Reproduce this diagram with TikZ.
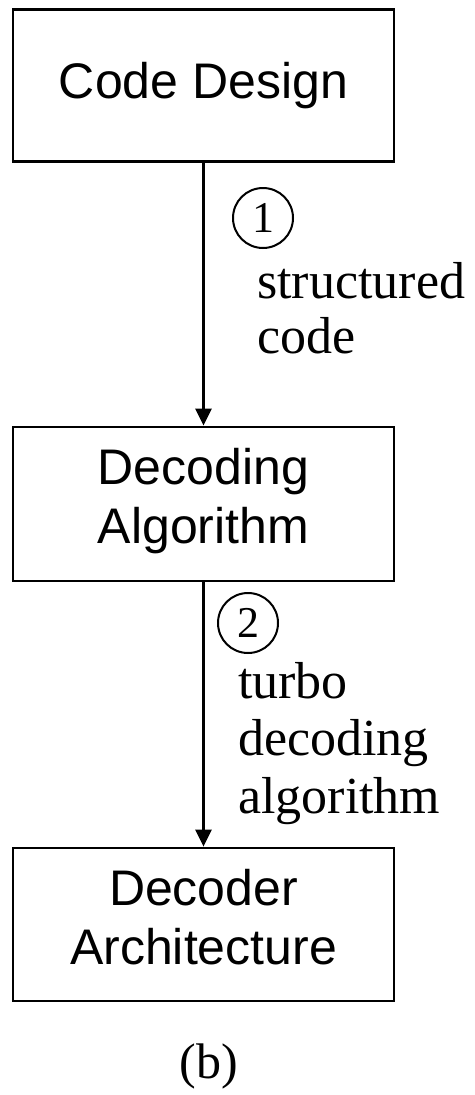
\documentclass[tikz,border=0pt]{standalone}
\usepackage{fontspec}
\setmainfont{Liberation Serif}
\newfontfamily\helv{Liberation Sans}
\usetikzlibrary{arrows.meta}
\begin{document}
\begin{tikzpicture}[x=1pt,y=-1pt,
  stagebox/.style={draw, line width=2.8pt, minimum width=381pt, align=center, inner sep=0pt,
    font=\helv\fontsize{50}{59}\selectfont},
  flow/.style={line width=2.4pt, -{Triangle[length=17pt,width=16pt]}},
  numcirc/.style={draw, circle, line width=2pt, minimum size=60pt, inner sep=0pt,
    font=\fontsize{44}{44}\selectfont},
  lbl/.style={anchor=base west, inner sep=0pt, font=\fontsize{52}{55}\selectfont}]
\useasboundingbox (0,0) rectangle (474,1095);
\node[stagebox, minimum height=152pt] (b1) at (203.5,85.5) {Code Design};
\node[stagebox, minimum height=154pt, text depth=16pt] (b2) at (203.5,504) {Decoding\\Algorithm};
\node[stagebox, minimum height=153pt, text depth=16pt] (b3) at (203.5,924.5) {Decoder\\Architecture};
\draw[flow] (b1.south) -- (b2.north);
\draw[flow] (b2.south) -- (b3.north);
\node[numcirc] (c1) at (263,218) {1};
\node[numcirc] (c2) at (248,623) {2};
\node[lbl] (l1a) at (257,298) {structured};
\node[lbl] (l1b) at (257,353) {code};
\node[lbl] (l2a) at (238,698) {turbo};
\node[lbl] (l2b) at (238,755) {decoding};
\node[lbl] (l2c) at (238,813) {algorithm};
\node[anchor=base, inner sep=0pt, font=\fontsize{50}{50}\selectfont] (cap) at (209,1078) {(b)};
\end{tikzpicture}
\end{document}
